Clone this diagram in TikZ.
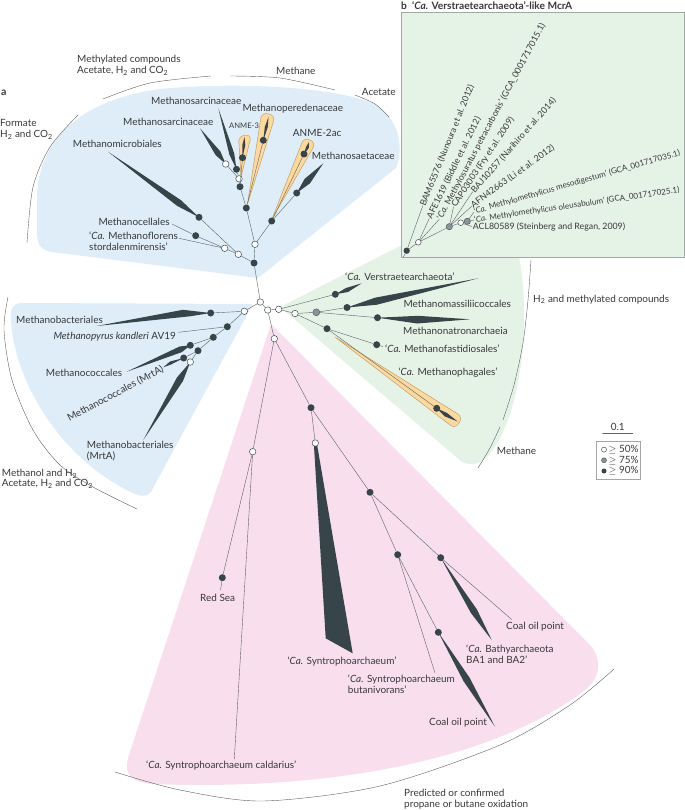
\documentclass[tikz,border=0pt]{standalone}
\usepackage{fontspec}
\setmainfont{Lato}
\usetikzlibrary{backgrounds}
\definecolor{blueBg}{HTML}{DEEDF8}
\definecolor{greenBg}{HTML}{E5F3E6}
\definecolor{pinkBg}{HTML}{F9DFEE}
\definecolor{capFill}{HTML}{FDD9A0}
\definecolor{capLine}{HTML}{C29C62}
\definecolor{nodeDark}{HTML}{37454A}
\definecolor{nodeGray}{HTML}{8D9396}
\definecolor{lineGray}{HTML}{5E6466}
\definecolor{textGray}{HTML}{383838}
\definecolor{boxLine}{HTML}{A2A6A4}

\begin{document}
\begin{tikzpicture}[x=0.03cm, y=-0.03cm, line cap=round,
    bk/.style={circle, fill=nodeDark, inner sep=0pt, minimum size=2.1mm},
    wt/.style={circle, draw=nodeDark, fill=white, line width=0.4pt, inner sep=0pt, minimum size=1.95mm},
    gy/.style={circle, draw=nodeDark, fill=nodeGray, line width=0.3pt, inner sep=0pt, minimum size=2.1mm},
    edge/.style={draw=lineGray, line width=0.35pt},
    arcline/.style={draw=lineGray, line width=0.35pt},
    wedge/.style={fill=nodeDark},
    capsule/.style={fill=capFill, draw=capLine, line width=0.4pt},
    lbl/.style={font=\fontsize{8.5}{9.4}\selectfont, text=textGray, inner sep=0pt, anchor=west, align=left},
    lblb/.style={font=\fontsize{7.5}{8.5}\selectfont, text=textGray, inner sep=0pt, anchor=west}]
    \useasboundingbox (0,0) rectangle (685,810);

    % ---- tree nodes: root ----
    \node[wt] (r0) at (260.3,302) {};
    \node[wt] (r1) at (267.7,310) {};
    \node[wt] (r2) at (278.7,309.3) {};
    \node[bk] (up) at (254,263) {};

    % ---- tree nodes: upper blue clade ----
    \node[wt] (u1) at (238.3,254.3) {};
    \node[wt] (u2) at (224.7,248.3) {};
    \node[bk] (mcel) at (195.7,235.7) {};
    \node[bk] (mmic) at (199,217.3) {};
    \node[wt] (u3) at (255,244.3) {};
    \node[bk] (u4) at (246.3,208) {};
    \node[bk] (u5) at (240,186.7) {};
    \node[wt] (u6) at (239,178.8) {};
    \node[wt] (sarcA) at (225.7,164) {};
    \node[bk] (sarcB) at (236.5,169.3) {};
    \node[bk] (anme3) at (242.5,157.7) {};
    \node[bk] (mper) at (263.3,140.3) {};
    \node[bk] (u7) at (271.7,221) {};
    \node[bk] (msae) at (296.7,193) {};
    \node[bk] (anme2) at (304,154) {};

    % ---- tree nodes: lower blue clade ----
    \node[wt] (bl1) at (244.3,311.3) {};
    \node[bk] (mbac) at (210.7,313) {};
    \node[bk] (mpyr) at (227.3,326.7) {};
    \node[bk] (bl2) at (213.3,337.3) {};
    \node[bk] (mcoc) at (190.3,345.3) {};
    \node[bk] (bl3) at (198,350.7) {};
    \node[bk] (mcocM) at (183.7,358) {};
    \node[wt] (mbacM) at (190.3,362) {};

    % ---- tree nodes: green clade ----
    \node[bk] (vers) at (335.3,294.3) {};
    \node[wt] (g1) at (295,313.5) {};
    \node[gy] (g2) at (316.3,312.3) {};
    \node[bk] (mmas) at (347,307.5) {};
    \node[bk] (mnat) at (377.5,317.7) {};
    \node[bk] (g3) at (327,328.7) {};
    \node[bk] (mfas) at (376.7,344.7) {};
    \node[bk] (mpha) at (436.7,408.3) {};

    % ---- tree nodes: pink clade ----
    \node[wt] (p1) at (274.3,338.7) {};
    \node[wt] (p2) at (252.7,451.7) {};
    \node[bk] (p3) at (311,407.7) {};
    \node[bk] (red) at (222.3,577.7) {};
    \node[wt] (p5) at (315.3,443) {};
    \node[bk] (p4) at (370,492.3) {};
    \node[bk] (p6) at (397.7,554.7) {};
    \node[bk] (p7) at (440.7,557.7) {};
    \node[bk] (p8) at (438.3,632.3) {};

    % ---- free ends of leaves ----
    \coordinate (tMflo) at (179,238.3);
    \coordinate (tMcel) at (172,224);
    \coordinate (tMpyr) at (178.3,332.3);
    \coordinate (tFast) at (383,346.5);
    \coordinate (tRed) at (220.6,590);
    \coordinate (tCald) at (234.3,759);
    \coordinate (tButa) at (435,673);
    \coordinate (tCoal) at (511.7,619.5);

    % ---- shaded clades, capsules and collapsed wedges ----
    \begin{pgfonlayer}{background}
        \fill[blueBg] (258,278) -- (52,252) .. controls (40,250) and (37,244) .. (37,232)
            -- (37,200) .. controls (37,140) and (80,100) .. (160,89)
            .. controls (230,82) and (330,86) .. (372,103)
            .. controls (400,116) and (404,150) .. (396,168) -- cycle;
        \fill[blueBg] (253,304) -- (22,303) .. controls (12,303) and (10,310) .. (11,320)
            .. controls (14,380) and (60,460) .. (135,494)
            .. controls (145,498) and (150,495) .. (153,488) -- cycle;
        \fill[greenBg] (280,307) -- (410,241) -- (515,241)
            .. controls (530,290) and (527,380) .. (503,432)
            .. controls (492,455) and (480,470) .. (462,462) -- cycle;
        \fill[pinkBg] (271,324) -- (128,758) .. controls (124,776) and (132,782) .. (152,784)
            .. controls (300,790) and (480,770) .. (585,690)
            .. controls (600,678) and (603,660) .. (590,645) -- cycle;

        \draw[capsule] (241,177) [rounded corners=5pt] -- (238.5,136) -- (251.5,134.5) [sharp corners] -- cycle;
        \draw[capsule] (247.5,204) [rounded corners=5pt] -- (261.7,112.4) -- (275.3,115.6) [sharp corners] -- cycle;
        \draw[capsule] (272,219) [rounded corners=5pt] -- (304.1,137.2) -- (315.9,142.8) [sharp corners] -- cycle;
        \draw[capsule] (335,337) [rounded corners=5pt] -- (462.8,417.1) -- (455.2,428.9) [sharp corners] -- cycle;

        % upper blue
        \fill[wedge] (mmic.center) -- (181,200.2) -- (108,151.7) -- (177,205.8) -- cycle;
        \fill[wedge] (sarcA.center) -- (220.4,151.5) -- (200,128.3) -- (215.6,155.1) -- cycle;
        \fill[wedge] (sarcB.center) -- (234.2,153.3) -- (218.3,108.3) -- (229.4,154.7) -- cycle;
        \fill[wedge] (msae.center) -- (309.9,183.4) -- (323.3,163.3) -- (304.7,178.8) -- cycle;
        \fill[wedge] (anme3.center) -- (245.3,145) -- (244.5,137) -- (242.3,145) -- cycle;
        \fill[wedge] (mper.center) -- (267.8,127) -- (268.5,117) -- (264.8,127) -- cycle;
        \fill[wedge] (anme2.center) -- (308.8,148) -- (309,142) -- (306,147) -- cycle;
        % lower blue
        \fill[wedge] (mbac.center) -- (183,309.8) -- (96.7,326) -- (190,316.3) -- cycle;
        \fill[wedge] (mcoc.center) -- (179.6,346.5) -- (126.7,371.7) -- (181.9,352.1) -- cycle;
        \fill[wedge] (mcocM.center) -- (170,361.5) -- (163.3,367.3) -- (171,364.5) -- cycle;
        \fill[wedge] (mbacM.center) -- (183,381) -- (143.3,440) -- (177,377.4) -- cycle;
        % green
        \fill[wedge] (vers.center) -- (348,292) -- (361.7,283.3) -- (346,288) -- cycle;
        \fill[wedge] (mmas.center) -- (375,297.7) -- (478.3,278.3) -- (377,304.7) -- cycle;
        \fill[wedge] (mnat.center) -- (418,315.8) -- (470,319.3) -- (417,323.5) -- cycle;
        \fill[wedge] (mpha.center) -- (447,413) -- (457.7,421.5) -- (445,416.5) -- cycle;
        % pink
        \fill[wedge] (313.8,443) -- (325.7,638.3) -- (352.7,653.3) -- (316.8,443) -- cycle;
        \fill[wedge] (p7.center) -- (476.9,609.4) -- (491.7,640) -- (470.9,613) -- cycle;
        \fill[wedge] (p8.center) -- (469.6,677.7) -- (495,726.7) -- (463.6,681.3) -- cycle;
    \end{pgfonlayer}

    % ---- branches ----
    \draw[edge] (r0) -- (up) (r0) -- (bl1) (r0) -- (r1) (r1) -- (r2) (r1) -- (p1);
    \draw[edge] (up) -- (u1) (u1) -- (u2) (u2) -- (mcel) (mcel) -- (tMcel) (u2) -- (tMflo)
        (u1) -- (mmic) (up) -- (u3) (u3) -- (u4) (u4) -- (u5) (u5) -- (u6)
        (u6) -- (sarcA) (u6) -- (sarcB) (u5) -- (anme3) (u4) -- (mper)
        (u3) -- (u7) (u7) -- (msae) (u7) -- (anme2);
    \draw[edge] (bl1) -- (mbac) (bl1) -- (mpyr) (mpyr) -- (tMpyr) (mpyr) -- (bl2)
        (bl2) -- (mcoc) (bl2) -- (bl3) (bl3) -- (mcocM) (bl3) -- (mbacM);
    \draw[edge] (r2) -- (vers) (r2) -- (g1) (g1) -- (g2) (g2) -- (mmas) (g2) -- (mnat)
        (g1) -- (g3) (g3) -- (mfas) (mfas) -- (tFast) (g3) -- (mpha);
    \draw[edge] (p1) -- (p2) (p1) -- (p3) (p2) -- (red) (red) -- (tRed) (p2) -- (tCald)
        (p3) -- (p5) (p3) -- (p4) (p4) -- (p6) (p4) -- (p7) (p6) -- (tButa)
        (p6) -- (p8) (p7) -- (tCoal);

    % ---- outer arcs ----
    \draw[arcline] plot[smooth] coordinates {(78,115) (50,147) (33,187) (27,243)};
    \draw[arcline] plot[smooth] coordinates {(103,99) (150,83) (211,76)};
    \draw[arcline] plot[smooth] coordinates {(230,76) (280,78) (335,90)};
    \draw[arcline] plot[smooth] coordinates {(355,95) (375,104) (389,117)};
    \draw[arcline] plot[smooth] coordinates {(8,297) (4,330) (12,380) (33,430) (60,465) (93,487) (137,509)};
    \draw[arcline] plot[smooth] coordinates {(531,260) (528,300) (523,343) (514,385) (503,420)};
    \draw[arcline] plot[smooth] coordinates {(500,427) (490,448) (478,468)};
    \draw[arcline] plot[smooth] coordinates {(115,772) (180,790) (263,801) (380,786) (500,745) (570,705) (614,669)};

    % ---- labels: blue ----
    \node[lbl, font=\bfseries\fontsize{9}{10}\selectfont] (panA) at (1,92.3) {a};
    \node[lbl] (lForm) at (0,129.7) {Formate\\H\textsubscript{2} and CO\textsubscript{2}};
    \node[lbl] (lMeth) at (77,65.3) {Methylated compounds\\Acetate, H\textsubscript{2} and CO\textsubscript{2}};
    \node[lbl] (lMethane) at (276,71) {Methane};
    \node[lbl] (lAcet) at (361.7,91.7) {Acetate};
    \node[lbl] (lSarcB) at (151,100.7) {Methanosarcinaceae};
    \node[lbl] (lSarcA) at (123,121.7) {Methanosarcinaceae};
    \node[lbl] (lMper) at (242.3,108.3) {Methanoperedenaceae};
    \node[lbl, font=\fontsize{6.5}{7}\selectfont] (lAnme3) at (229,126) {ANME-3};
    \node[lbl] (lAnme2) at (292.7,132.7) {ANME-2ac};
    \node[lbl] (lMmic) at (72.7,144.3) {Methanomicrobiales};
    \node[lbl] (lMsae) at (311.7,155.7) {Methanosaetaceae};
    \node[lbl] (lMcel) at (98.3,221.7) {Methanocellales};
    \node[lbl] (lMflo) at (89,241.7) {‘\textit{Ca.} Methanoflorens\\stordalenmirensis’};
    \node[lbl] (lMbac) at (16,320) {Methanobacteriales};
    \node[lbl] (lMpyr) at (53.3,336.7) {\textit{Methanopyrus kandleri} AV19};
    \node[lbl] (lMcoc) at (45.7,372.7) {Methanococcales};
    \node[lbl, rotate=28] (lMcocM) at (68,419) {Methanococcales (MrtA)};
    \node[lbl] (lMbacM) at (86.7,451.2) {Methanobacteriales\\(MrtA)};
    \node[lbl, font=\fontsize{8.5}{7.2}\selectfont] (lMol) at (1.7,479) {Methanol and H\textsubscript{2}\\Acetate, H\textsubscript{2} and CO\textsubscript{2}};

    % ---- labels: green ----
    \node[lbl] (lVers) at (345,276.7) {‘\textit{Ca.} Verstraetearchaeota’};
    \node[lbl] (lMmas) at (403.3,304.3) {Methanomassiliicoccales};
    \node[lbl] (lMnat) at (403,330.7) {Methanonatronarchaeia};
    \node[lbl] (lMfas) at (385,348.3) {‘\textit{Ca.} Methanofastidiosales’};
    \node[lbl] (lMpha) at (398.3,372.7) {‘\textit{Ca.} Methanophagales’};
    \node[lbl] (lH2) at (533,299.3) {H\textsubscript{2} and methylated compounds};
    \node[lbl] (lMethR) at (496.7,450.7) {Methane};

    % ---- labels: pink ----
    \node[lbl] (lRed) at (200,597.7) {Red Sea};
    \node[lbl] (lCald) at (146,765.7) {‘\textit{Ca.} Syntrophoarchaeum caldarius’};
    \node[lbl] (lSyn) at (287.3,661.7) {‘\textit{Ca.} Syntrophoarchaeum’};
    \node[lbl] (lButa) at (347.7,684.5) {‘\textit{Ca.} Syntrophoarchaeum\\butanivorans’};
    \node[lbl] (lBath) at (466,653.8) {‘\textit{Ca.} Bathyarchaeota\\BA1 and BA2’};
    \node[lbl] (lCoalU) at (506,626.7) {Coal oil point};
    \node[lbl] (lCoalL) at (429,722.3) {Coal oil point};
    \node[lbl] (lProp) at (404,798.7) {Predicted or confirmed\\propane or butane oxidation};

    % ---- scale bar and legend ----
    \coordinate (sbL) at (602.7,433.3);
    \coordinate (sbR) at (632.7,433.3);
    \draw[edge, line width=0.5pt] (sbL) -- (sbR);
    \node[lbl, anchor=center] (sbT) at (617.7,426.7) {0.1};
    \draw[boxLine, line width=0.5pt] (596.7,441.7) rectangle (640,479);
    \node[wt, minimum size=1.5mm] (k50) at (604,449.6) {};
    \node[gy, minimum size=1.5mm] (k75) at (604,460.3) {};
    \node[bk, minimum size=1.5mm] (k90) at (604,471) {};
    \node[lbl] (k50t) at (608.5,449.6) {$\geq$ 50\%};
    \node[lbl] (k75t) at (608.5,460.3) {$\geq$ 75\%};
    \node[lbl] (k90t) at (608.5,471) {$\geq$ 90\%};

    % ---- panel b ----
    \draw[boxLine, fill=greenBg, line width=0.5pt] (401.7,12.7) rectangle (684.3,257.3);
    \node[lbl, font=\bfseries\fontsize{8.7}{9.5}\selectfont] (ttlB) at (401,6) {b\hspace{0.5em}‘\textit{Ca.} Verstraetearchaeota’-like McrA};
    \node[bk, minimum size=1.9mm] (bRoot) at (406.7,250.7) {};
    \node[wt, minimum size=1.7mm] (bW1) at (418.3,242.3) {};
    \node[gy, minimum size=1.9mm] (bG1) at (449.3,226.7) {};
    \node[wt, minimum size=1.7mm] (bW2) at (460.7,222.7) {};
    \node[gy, minimum size=1.9mm] (bG2) at (467.3,221.3) {};
    \coordinate (bOut) at (403.3,257.3);
    \node[lblb, rotate=68] (bL1) at (422.7,206) {BAM65576 (Nunoura et al. 2012)};
    \node[lblb, rotate=64] (bL2) at (429.3,218.3) {AFE1619 (Biddle et al. 2012)};
    \node[lblb, rotate=62] (bL3) at (439.3,219.3) {‘\textit{Ca.} Methylosuratus petracarbonis’ (GCA\_0001717015.1)};
    \node[lblb, rotate=56.5] (bL4) at (453.5,206.7) {CAP03003 (Fry et al. 2009)};
    \node[lblb, rotate=48.5] (bL5) at (472.7,191.7) {BAJ10257 (Narihiro et al. 2014)};
    \node[lblb, rotate=36] (bL6) at (471.7,206.2) {AFN42663 (Li et al. 2012)};
    \node[lblb, rotate=16, font=\fontsize{6.9}{8}\selectfont] (bL7) at (474,212) {‘\textit{Ca.} Methylomethylicus mesodigestum’ (GCA\_001717035.1)};
    \node[lblb, rotate=8.3, font=\fontsize{6.9}{8}\selectfont] (bL8) at (474,220) {‘\textit{Ca.} Methylomethylicus oleusabulum’ (GCA\_001717025.1)};
    \node[lblb] (bL9) at (472.7,226.7) {ACL80589 (Steinberg and Regan, 2009)};
    \draw[edge] (bOut) -- (bRoot) (bRoot) -- (bW1) (bW1) -- (bG1) (bG1) -- (bW2) (bW2) -- (bG2);
    \draw[edge, shorten >=0.8pt] (bRoot) -- (bL1.west) (bW1) -- (bL2.west) (bW1) -- (bL3.west)
        (bG1) -- (bL4.west) (bG1) -- (bL5.west) (bG1) -- (bL6.west)
        (bG2) -- (bL7.west) (bG2) -- (bL8.west) (bW2) -- (bL9.west);
\end{tikzpicture}
\end{document}
